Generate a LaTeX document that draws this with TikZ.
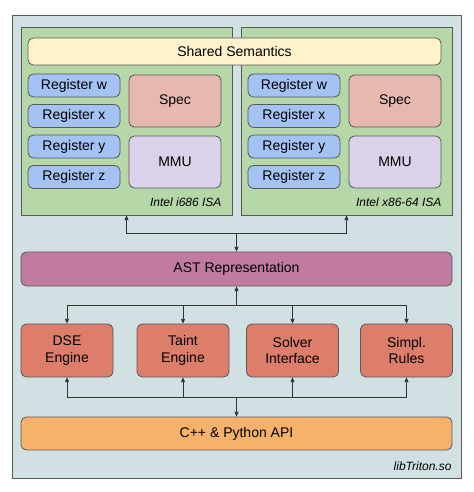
\documentclass[tikz,border=0pt]{standalone}
\usepackage{fontspec}
\setmainfont{Liberation Sans}
\usetikzlibrary{arrows.meta}

\definecolor{libBg}{HTML}{D0E0E3}
\definecolor{isaGreen}{HTML}{B6D7A8}
\definecolor{semYellow}{HTML}{FFF2CC}
\definecolor{regBlue}{HTML}{A4C2F4}
\definecolor{specRed}{HTML}{E6B8AF}
\definecolor{mmuPurple}{HTML}{D9D2E9}
\definecolor{astMagenta}{HTML}{C27BA0}
\definecolor{engRed}{HTML}{DD7E6B}
\definecolor{apiOrange}{HTML}{F6B26B}
\definecolor{edgeGrey}{HTML}{595959}
\definecolor{wireGrey}{HTML}{333333}

\tikzset{every picture/.style={line width=0.75pt}}
\tikzset{
	panel/.style={draw=edgeGrey, line width=0.6pt, inner sep=0pt},
	box/.style={draw=edgeGrey, line width=0.6pt, rounded corners=4pt, inner sep=0pt, align=center, font=\fontsize{10.5}{12.5}\selectfont},
	regbox/.style={box, fill=regBlue, minimum width=69pt, minimum height=17.25pt},
	sidebox/.style={box, minimum width=69pt, minimum height=39pt},
	engbox/.style={box, fill=engRed, minimum width=69pt, minimum height=39.75pt},
	widebox/.style={box, minimum width=323.25pt},
	tag/.style={anchor=east, inner sep=0pt, font=\fontsize{9}{10}\selectfont\itshape},
	wire/.style={draw=wireGrey, line width=0.6pt, -{Triangle[length=3.5pt,width=3pt]}}
}

\begin{document}
\begin{tikzpicture}[x=0.75pt,y=0.75pt,yscale=-1,xscale=1]
	\useasboundingbox (0,0) rectangle (474,492);

	%Outer library frame
	\node[panel, fill=libBg, minimum width=336.75pt, minimum height=347.25pt] (lib) at (236.5,246.5) {};

	%ISA panels
	\node[panel, fill=isaGreen, minimum width=158.25pt, minimum height=141pt] (isaL) at (126.5,121) {};
	\node[panel, fill=isaGreen, minimum width=158.25pt, minimum height=141pt] (isaR) at (346.5,121) {};

	%Shared semantics
	\node[widebox, fill=semYellow, minimum width=309.75pt, minimum height=20.25pt] (shared) at (234.5,51.5) {Shared Semantics};

	%Registers, left ISA
	\node[regbox] (regWL) at (74,85.5) {Register w};
	\node[regbox] (regXL) at (74,116) {Register x};
	\node[regbox] (regYL) at (74,146.5) {Register y};
	\node[regbox] (regZL) at (74,177) {Register z};
	\node[sidebox, fill=specRed] (specL) at (175,101) {Spec};
	\node[sidebox, fill=mmuPurple] (mmuL) at (175,162) {MMU};

	%Registers, right ISA
	\node[regbox] (regWR) at (294,85.5) {Register w};
	\node[regbox] (regXR) at (294,116) {Register x};
	\node[regbox] (regYR) at (294,146.5) {Register y};
	\node[regbox] (regZR) at (294,177) {Register z};
	\node[sidebox, fill=specRed] (specR) at (395,101) {Spec};
	\node[sidebox, fill=mmuPurple] (mmuR) at (395,162) {MMU};

	% Text Node
	\node[tag] (isaLtag) at (222,202) {Intel i686 ISA};
	% Text Node
	\node[tag] (isaRtag) at (442,202) {Intel x86-64 ISA};

	%AST
	\node[widebox, fill=astMagenta, minimum height=25.5pt] (ast) at (236.5,269) {AST Representation};

	%Engines
	\node[engbox] (dse) at (67,350.5) {DSE\\Engine};
	\node[engbox] (taint) at (183,350.5) {Taint\\Engine};
	\node[engbox] (solver) at (292.5,350.5) {Solver\\Interface};
	\node[engbox] (simpl) at (406.5,350.5) {Simpl.\\Rules};

	%API
	\node[widebox, fill=apiOrange, minimum height=24.75pt] (api) at (236.5,433.5) {C++ \& Python API};

	% Text Node
	\node[tag] (libtag) at (452,466) {libTriton.so};

	%Connectors ISA <-> AST
	\coordinate (topJ) at (236.5,233);
	\draw[wire] (topJ) -- (ast.north);
	\draw[wire] (topJ) -| (isaL.south);
	\draw[wire] (topJ) -| (isaR.south);

	%Connectors AST <-> engines
	\coordinate (midJ) at (236.5,305);
	\draw[wire] (midJ) -- (ast.south);
	\draw[wire] (midJ) -| (dse.north);
	\draw[wire] (midJ) -| (taint.north);
	\draw[wire] (midJ) -| (solver.north);
	\draw[wire] (midJ) -| (simpl.north);

	%Connectors engines <-> API
	\coordinate (lowJ) at (236.5,397);
	\draw[wire] (lowJ) -- (api.north);
	\draw[wire] (lowJ) -| (dse.south);
	\draw[wire] (lowJ) -| (taint.south);
	\draw[wire] (lowJ) -| (solver.south);
	\draw[wire] (lowJ) -| (simpl.south);

\end{tikzpicture}
\end{document}
